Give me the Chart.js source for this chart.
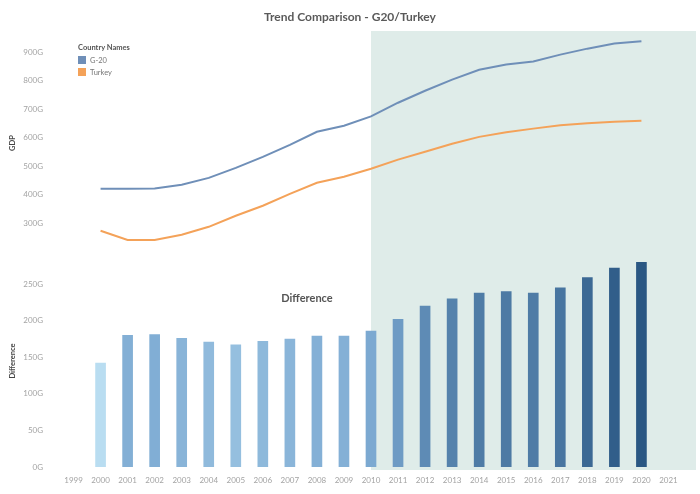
<!DOCTYPE html>
<html>
<head>
<meta charset="utf-8">
<script src="https://cdn.jsdelivr.net/npm/chart.js@4.4.0/dist/chart.umd.min.js"></script>
<style>
  body { margin: 0; background: #fff; }
  #wrap { position: relative; width: 700px; height: 494px; font-family: Lato, sans-serif; }
  #title { position: absolute; left: 0; width: 700px; top: 9px; text-align: center; font-size: 12px; font-weight: 700; color: #5a5a5a; }
  #legend { position: absolute; left: 78px; top: 43px; font-size: 7.5px; color: #777; }
  #legend .head { font-weight: 700; color: #555; margin-bottom: 2px; }
  #legend .item { display: flex; align-items: center; height: 12px; }
  #legend .sw { width: 8px; height: 8px; margin-right: 4px; }
</style>
</head>
<body>
<div id="wrap">
  <canvas id="chart" width="700" height="494"></canvas>
  <div id="title">Trend Comparison - G20/Turkey</div>
  <div id="legend">
    <div class="head">Country Names</div>
    <div class="item"><span class="sw" style="background:#6f8fb8"></span>G-20</div>
    <div class="item"><span class="sw" style="background:#f4a259"></span>Turkey</div>
  </div>
</div>
<script>
const years = ['1999', '2000', '2001', '2002', '2003', '2004', '2005', '2006', '2007', '2008', '2009', '2010',
  '2011', '2012', '2013', '2014', '2015', '2016', '2017', '2018', '2019', '2020', '2021'];
// GDP in billions (G)
const g20 = [null, 421, 421, 422, 435, 459, 494, 533, 575, 621, 642, 675,
  723, 765, 804, 839, 857, 868, 892, 913, 931, 939, null];
const turkey = [null, 273, 241, 241, 259, 287, 326, 361, 403, 442, 463, 491,
  523, 551, 579, 603, 619, 632, 644, 651, 656, 660, null];
const difference = [null, 142, 180, 181, 176, 171, 167, 172, 175, 179, 179, 186,
  202, 220, 230, 238, 240, 238, 245, 259, 272, 280, null];
const gdpTicks = [300, 400, 500, 600, 700, 800, 900];
const diffTicks = [0, 50, 100, 150, 200, 250];
const forecastStart = '2010';

// sequential blue, light -> dark by value
function hex(c) { return [1, 3, 5].map(i => parseInt(c.substr(i, 2), 16)); }
function mix(a, b, t) { return a.map((v, i) => Math.round(v + (b[i] - v) * t)); }
const stops = [[0, hex('#b9ddf1')], [0.3, hex('#7eabd3')], [1, hex('#2a5783')]];
function blue(v) {
  const vals = difference.filter(d => d != null);
  const t = (v - Math.min(...vals)) / (Math.max(...vals) - Math.min(...vals));
  let c;
  if (t <= stops[1][0]) c = mix(stops[0][1], stops[1][1], t / stops[1][0]);
  else c = mix(stops[1][1], stops[2][1], (t - stops[1][0]) / (1 - stops[1][0]));
  return 'rgb(' + c.join(',') + ')';
}

const bandPlugin = {
  id: 'band',
  beforeDatasetsDraw(chart) {
    const { ctx, chartArea, scales } = chart;
    const x0 = scales.x.getPixelForValue(years.indexOf(forecastStart));
    ctx.save();
    ctx.fillStyle = '#dfece9';
    ctx.fillRect(x0, chartArea.top, chart.width - 4 - x0, chartArea.bottom - chartArea.top + 3);
    ctx.restore();
  },
  afterDraw(chart) {
    const ctx = chart.ctx;
    ctx.save();
    ctx.font = 'bold 11px Lato';
    ctx.fillStyle = '#555';
    ctx.textAlign = 'center';
    ctx.textBaseline = 'middle';
    ctx.fillText('Difference', 307, 298);
    ctx.restore();
  }
};

function fixWidth(scale) { scale.width = 60; }

new Chart(document.getElementById('chart'), {
  type: 'bar',
  data: {
    labels: years,
    datasets: [
      {
        type: 'line', label: 'G-20', data: g20, yAxisID: 'y',
        borderColor: '#6f8fb8', borderWidth: 2, pointRadius: 0, tension: 0
      },
      {
        type: 'line', label: 'Turkey', data: turkey, yAxisID: 'y',
        borderColor: '#f4a259', borderWidth: 2, pointRadius: 0, tension: 0
      },
      {
        type: 'bar', label: 'Difference', data: difference, yAxisID: 'y2',
        backgroundColor: difference.map(v => v == null ? null : blue(v)),
        barThickness: 10
      }
    ]
  },
  options: {
    responsive: false,
    animation: false,
    layout: { padding: { top: 31, right: 18, bottom: 9, left: 0 } },
    plugins: {
      legend: { display: false },
      tooltip: { enabled: false }
    },
    scales: {
      x: {
        offset: true,
        afterFit(scale) { scale.height = 18; },
        grid: { display: false, drawTicks: false },
        border: { display: false },
        ticks: { color: '#a3a3a3', font: { family: 'Lato', size: 8 }, padding: 9, maxRotation: 0, autoSkip: false }
      },
      y2: {
        position: 'left', stack: 'v', stackWeight: 212,
        min: 0, max: 290,
        afterFit: fixWidth,
        afterBuildTicks(scale) { scale.ticks = diffTicks.map(v => ({ value: v })); },
        grid: { display: false, drawTicks: false },
        border: { display: false },
        title: { display: true, text: 'Difference', color: '#444', font: { family: 'Lato', size: 7.5, weight: 'bold' }, padding: { top: 8 } },
        ticks: { color: '#a3a3a3', font: { family: 'Lato', size: 8 }, padding: 17, callback: v => v + 'G' }
      },
      y: {
        position: 'left', stack: 'v', stackWeight: 224,
        min: 188, max: 975,
        afterFit: fixWidth,
        afterBuildTicks(scale) { scale.ticks = gdpTicks.map(v => ({ value: v })); },
        grid: { display: false, drawTicks: false },
        border: { display: false },
        title: { display: true, text: 'GDP', color: '#444', font: { family: 'Lato', size: 7.5, weight: 'bold' }, padding: { top: 8 } },
        ticks: { color: '#a3a3a3', font: { family: 'Lato', size: 8 }, padding: 17, callback: v => v + 'G' }
      }
    }
  },
  plugins: [bandPlugin]
});
</script>
</body>
</html>
